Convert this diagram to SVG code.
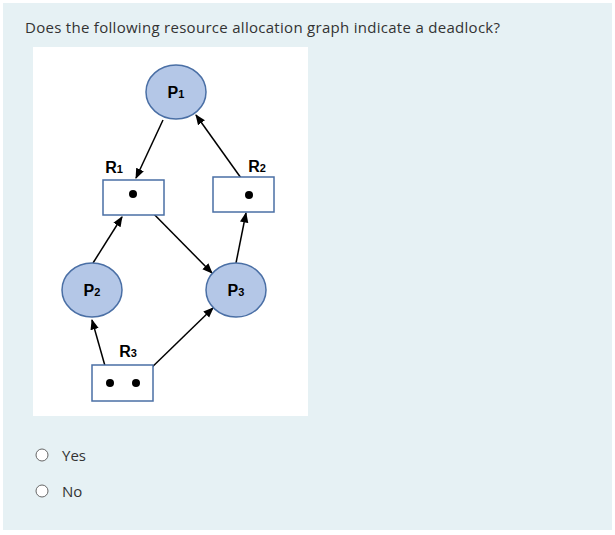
<svg xmlns="http://www.w3.org/2000/svg" width="615" height="535" viewBox="0 0 615 535">
<defs>
<marker id="ah" viewBox="0 0 10 10" refX="9" refY="5" markerWidth="7" markerHeight="7" orient="auto"><path d="M0,1 L10,5 L0,9 z" fill="#000"/></marker>
<style>
.p{fill:#b4c7e7;stroke:#4a6fa5;stroke-width:1.5}
.r{fill:#fff;stroke:#4a6fa5;stroke-width:1.5}
.l{font-family:"Liberation Sans",Arial,sans-serif;font-weight:bold;font-size:16px;fill:#000;text-anchor:middle}
.s{font-size:11px}
.t{font-family:"Open Sans","Liberation Sans",sans-serif;font-size:15px;fill:#333}
.e{stroke:#000;stroke-width:1.5;fill:none;marker-end:url(#ah)}
</style>
</defs>
<rect width="615" height="535" fill="#fff"/>
<rect x="3" y="3" width="609" height="527" fill="#e6f1f4"/>
<text class="t" x="25" y="33" textLength="475">Does the following resource allocation graph indicate a deadlock?</text>
<rect x="33" y="47" width="275" height="369" fill="#fff"/>
<g id="connectors">
<line class="e" x1="163" y1="120" x2="136" y2="178"/>
<line class="e" x1="246" y1="185" x2="196" y2="115"/>
<line class="e" x1="140" y1="200" x2="212" y2="273"/>
<line class="e" x1="93" y1="263" x2="122" y2="217"/>
<line class="e" x1="236" y1="263" x2="246" y2="213"/>
<line class="e" x1="107" y1="373" x2="92" y2="320"/>
<line class="e" x1="145" y1="374" x2="213" y2="308"/>
</g>
<g id="P1"><ellipse class="p" cx="176" cy="92" rx="30" ry="27"/><text class="l" x="176" y="98">P<tspan class="s">1</tspan></text></g>
<g id="P2"><ellipse class="p" cx="92" cy="290" rx="30" ry="27"/><text class="l" x="92" y="296">P<tspan class="s">2</tspan></text></g>
<g id="P3"><ellipse class="p" cx="236" cy="290" rx="30" ry="27"/><text class="l" x="236" y="296">P<tspan class="s">3</tspan></text></g>
<g id="R1"><rect class="r" x="103" y="180" width="61" height="35"/><circle cx="133" cy="194" r="4"/><text class="l" x="114" y="173">R<tspan class="s">1</tspan></text></g>
<g id="R2"><rect class="r" x="213" y="177" width="61" height="35"/><circle cx="249" cy="195" r="4"/><text class="l" x="257" y="172">R<tspan class="s">2</tspan></text></g>
<g id="R3"><rect class="r" x="92" y="365" width="61" height="36"/><circle cx="110" cy="383" r="4"/><circle cx="136" cy="383" r="4"/><text class="l" x="128" y="357">R<tspan class="s">3</tspan></text></g>
<circle cx="42" cy="455" r="6" fill="#fff" stroke="#666"/>
<text class="t" x="62" y="461" font-size="14">Yes</text>
<circle cx="42" cy="491" r="6" fill="#fff" stroke="#666"/>
<text class="t" x="62" y="497" font-size="14">No</text>
</svg>
